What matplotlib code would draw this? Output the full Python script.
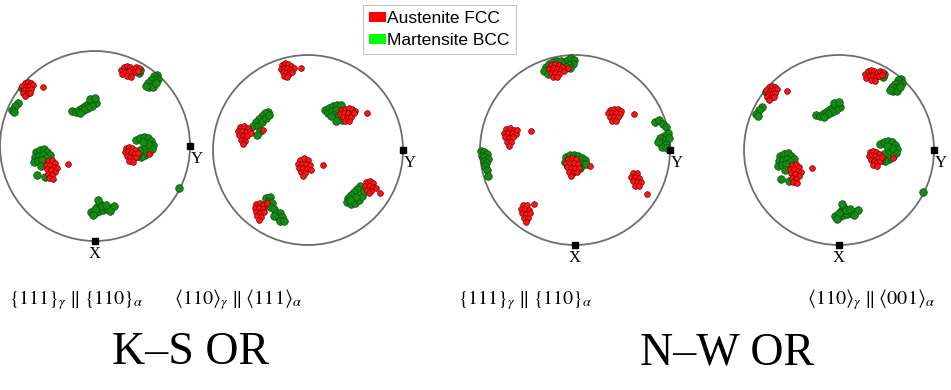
import matplotlib.pyplot as plt
from matplotlib.patches import Circle, Patch

plt.rcParams['mathtext.fontset'] = 'stix'

# -----------------------------
# DATA: pole figure points, unit circle coords (u to the right = Y, v up)
# -----------------------------
KS111_GREEN = [
    (0.46, 0.77), (0.47, 0.80),
    (0.65, 0.75), (0.62, 0.74), (0.66, 0.71), (0.63, 0.69), (0.59, 0.69), (0.60, 0.65),
    (0.56, 0.66), (0.57, 0.62), (0.61, 0.62), (0.64, 0.66), (0.54, 0.63),
    (-0.77, 0.61),
    (-0.81, 0.45), (-0.84, 0.42), (-0.87, 0.38), (-0.85, 0.36),
    (-0.24, 0.37), (-0.20, 0.36), (-0.17, 0.38), (-0.14, 0.40), (-0.11, 0.42), (-0.07, 0.44),
    (-0.04, 0.46), (-0.01, 0.48), (0.01, 0.45), (-0.03, 0.42), (-0.07, 0.40), (-0.12, 0.38),
    (-0.16, 0.35), (-0.05, 0.49), (0.00, 0.51),
    (0.43, 0.06), (0.47, 0.08), (0.52, 0.09), (0.56, 0.08), (0.59, 0.05), (0.61, 0.01),
    (0.60, -0.03), (0.57, -0.06), (0.53, -0.09), (0.48, -0.12), (0.44, -0.11), (0.47, -0.04),
    (0.53, 0.00), (0.56, 0.02), (0.51, 0.04),
    (-0.62, -0.06), (-0.58, -0.04), (-0.54, -0.03), (-0.51, -0.06), (-0.47, -0.09), (-0.63, -0.12),
    (-0.59, -0.11), (-0.55, -0.09), (-0.52, -0.13), (-0.64, -0.17), (-0.60, -0.16), (-0.56, -0.15),
    (-0.61, -0.31), (-0.53, -0.33), (-0.57, -0.21),
    (-0.04, -0.69), (0.00, -0.71), (0.04, -0.68), (0.08, -0.67), (0.13, -0.66), (0.17, -0.65),
    (0.20, -0.63), (0.02, -0.64), (0.05, -0.61), (0.03, -0.57), (0.07, -0.63), (0.12, -0.62),
    (0.16, -0.68), (0.00, -0.66), (-0.02, -0.73),
    (0.88, -0.44),
]
KS111_RED = [
    (0.27, 0.80), (0.31, 0.83), (0.34, 0.84), (0.37, 0.83), (0.40, 0.81), (0.43, 0.83),
    (0.46, 0.82), (0.28, 0.76), (0.33, 0.78), (0.36, 0.79), (0.39, 0.77), (0.42, 0.78),
    (0.34, 0.74), (0.38, 0.73), (0.45, 0.79),
    (-0.74, 0.66), (-0.71, 0.67), (-0.67, 0.66), (-0.77, 0.63), (-0.73, 0.62), (-0.68, 0.63),
    (-0.65, 0.64), (-0.75, 0.59), (-0.71, 0.59), (-0.67, 0.60), (-0.76, 0.56), (-0.72, 0.55),
    (-0.68, 0.56), (-0.74, 0.53), (-0.55, 0.62),
    (0.33, -0.02), (0.36, -0.01), (0.39, -0.02), (0.42, -0.04), (0.32, -0.06), (0.35, -0.05),
    (0.38, -0.06), (0.41, -0.08), (0.34, -0.11), (0.37, -0.12), (0.40, -0.13), (0.43, -0.12),
    (0.36, -0.16), (0.40, -0.17), (0.45, -0.07), (0.57, -0.08),
    (-0.49, -0.16), (-0.45, -0.15), (-0.42, -0.18), (-0.52, -0.20), (-0.47, -0.20), (-0.43, -0.22),
    (-0.40, -0.23), (-0.51, -0.24), (-0.46, -0.25), (-0.42, -0.27), (-0.49, -0.29), (-0.45, -0.31),
    (-0.48, -0.34), (-0.44, -0.35), (-0.28, -0.19),
]

KS110_GREEN = [
    (0.18, 0.42), (0.22, 0.44), (0.26, 0.46), (0.31, 0.47), (0.35, 0.47), (0.21, 0.39),
    (0.25, 0.41), (0.29, 0.42), (0.27, 0.37), (0.32, 0.35), (0.36, 0.32), (0.29, 0.31), (0.24, 0.36),
    (-0.42, 0.40), (-0.45, 0.39), (-0.48, 0.36), (-0.52, 0.33), (-0.55, 0.29), (-0.58, 0.25),
    (-0.53, 0.25), (-0.48, 0.29), (-0.44, 0.34), (-0.41, 0.37), (-0.51, 0.20), (-0.54, 0.16),
    (0.55, -0.38), (0.52, -0.41), (0.48, -0.44), (0.45, -0.47), (0.42, -0.51), (0.41, -0.55),
    (0.45, -0.57), (0.49, -0.56), (0.54, -0.53), (0.57, -0.48), (0.59, -0.43), (0.51, -0.49), (0.44, -0.53),
    (-0.44, -0.51), (-0.40, -0.49), (-0.42, -0.55), (-0.38, -0.56), (-0.40, -0.60), (-0.36, -0.62),
    (-0.34, -0.66), (-0.29, -0.66), (-0.32, -0.71), (-0.27, -0.71), (-0.29, -0.75), (-0.25, -0.75),
    (-0.36, -0.69), (-0.46, -0.58),
]
KS110_RED = [
    (-0.27, 0.89), (-0.24, 0.92), (-0.21, 0.91), (-0.18, 0.88), (-0.15, 0.86), (-0.28, 0.85),
    (-0.25, 0.86), (-0.22, 0.86), (-0.19, 0.84), (-0.26, 0.82), (-0.23, 0.81), (-0.20, 0.80),
    (-0.25, 0.78), (-0.22, 0.77), (-0.17, 0.82), (-0.07, 0.86),
    (0.35, 0.42), (0.39, 0.43), (0.43, 0.44), (0.46, 0.43), (0.49, 0.41), (0.34, 0.38),
    (0.38, 0.39), (0.42, 0.39), (0.46, 0.38), (0.37, 0.35), (0.41, 0.34), (0.45, 0.35),
    (0.39, 0.31), (0.43, 0.31), (0.48, 0.39), (0.62, 0.39),
    (-0.72, 0.24), (-0.67, 0.25), (-0.63, 0.23), (-0.74, 0.20), (-0.69, 0.20), (-0.65, 0.19),
    (-0.61, 0.20), (-0.73, 0.16), (-0.68, 0.15), (-0.64, 0.15), (-0.71, 0.11), (-0.66, 0.09),
    (-0.68, 0.06), (-0.60, 0.18), (-0.47, 0.21),
    (-0.08, -0.11), (-0.04, -0.08), (0.00, -0.11), (-0.11, -0.15), (-0.06, -0.15), (-0.02, -0.15),
    (0.02, -0.16), (-0.09, -0.19), (-0.05, -0.19), (-0.01, -0.20), (-0.07, -0.23), (-0.03, -0.24),
    (-0.05, -0.27), (0.03, -0.21), (0.16, -0.16),
    (0.61, -0.34), (0.65, -0.33), (0.68, -0.35), (0.60, -0.38), (0.64, -0.38), (0.68, -0.39),
    (0.72, -0.40), (0.62, -0.42), (0.66, -0.43), (0.64, -0.45), (0.76, -0.45),
    (-0.55, -0.57), (-0.51, -0.56), (-0.47, -0.58), (-0.56, -0.61), (-0.52, -0.61), (-0.47, -0.62),
    (-0.55, -0.65), (-0.51, -0.66), (-0.46, -0.65), (-0.54, -0.69), (-0.49, -0.71), (-0.52, -0.74),
    (-0.43, -0.56),
]

NW111_GREEN = [
    (-0.31, 0.87), (-0.33, 0.83), (-0.27, 0.91), (-0.23, 0.93), (-0.19, 0.94), (-0.15, 0.94),
    (-0.11, 0.93), (-0.07, 0.95), (-0.04, 0.97), (-0.01, 0.95), (-0.02, 0.91), (-0.06, 0.89),
    (-0.09, 0.87), (-0.05, 0.86), (-0.28, 0.80),
    (0.84, 0.29), (0.88, 0.32), (0.93, 0.27), (0.96, 0.24), (0.98, 0.18), (0.94, 0.15),
    (0.89, 0.13), (0.95, 0.11), (0.91, 0.07), (0.96, 0.06), (0.92, 0.03), (0.97, 0.02),
    (0.87, 0.08), (0.99, 0.13),
    (-0.99, -0.01), (-0.96, -0.02), (-0.93, -0.04), (-0.98, -0.06), (-0.96, -0.07), (-0.92, -0.09),
    (-0.96, -0.12), (-0.94, -0.14), (-0.95, -0.17), (-0.93, -0.21), (-0.92, -0.27),
    (-0.09, -0.07), (-0.05, -0.05), (-0.01, -0.05), (0.03, -0.06), (0.07, -0.08), (0.11, -0.11),
    (0.08, -0.15), (0.05, -0.19), (-0.11, -0.13), (-0.07, -0.17), (-0.03, -0.23), (0.12, -0.15),
]
NW111_RED = [
    (-0.25, 0.89), (-0.21, 0.91), (-0.17, 0.89), (-0.14, 0.87), (-0.27, 0.85), (-0.23, 0.86),
    (-0.19, 0.85), (-0.15, 0.84), (-0.12, 0.83), (-0.25, 0.81), (-0.21, 0.81), (-0.17, 0.80),
    (-0.23, 0.77), (-0.19, 0.77), (-0.07, 0.86),
    (0.37, 0.42), (0.41, 0.43), (0.45, 0.43), (0.48, 0.41), (0.35, 0.39), (0.39, 0.39),
    (0.43, 0.39), (0.47, 0.38), (0.37, 0.35), (0.41, 0.35), (0.45, 0.35), (0.39, 0.31),
    (0.43, 0.31), (0.62, 0.38),
    (-0.73, 0.22), (-0.68, 0.23), (-0.64, 0.21), (-0.75, 0.18), (-0.71, 0.18), (-0.66, 0.18),
    (-0.62, 0.17), (-0.74, 0.14), (-0.69, 0.13), (-0.65, 0.14), (-0.72, 0.08), (-0.67, 0.08),
    (-0.69, 0.04), (-0.61, 0.21), (-0.46, 0.20),
    (-0.07, -0.09), (-0.03, -0.08), (0.01, -0.09), (-0.09, -0.14), (-0.05, -0.14), (-0.01, -0.14),
    (0.03, -0.15), (-0.08, -0.18), (-0.04, -0.19), (0.00, -0.19), (0.04, -0.19), (-0.06, -0.23),
    (-0.02, -0.24), (0.02, -0.23), (-0.04, -0.27), (0.16, -0.17),
    (0.61, -0.24), (0.65, -0.24), (0.59, -0.28), (0.63, -0.28), (0.67, -0.29), (0.61, -0.33),
    (0.65, -0.34), (0.69, -0.34), (0.63, -0.38), (0.67, -0.38), (0.76, -0.46),
    (-0.55, -0.58), (-0.51, -0.58), (-0.57, -0.62), (-0.53, -0.62), (-0.48, -0.63), (-0.56, -0.66),
    (-0.52, -0.67), (-0.47, -0.66), (-0.54, -0.72), (-0.49, -0.72), (-0.52, -0.76), (-0.43, -0.57),
]

# the <110>||<001> figure shows the same poles as the first one
NW110_GREEN = KS111_GREEN
NW110_RED = KS111_RED

FIGURES = [
    (KS111_GREEN, KS111_RED, True),
    (KS110_GREEN, KS110_RED, False),
    (NW111_GREEN, NW111_RED, True),
    (NW110_GREEN, NW110_RED, True),
]
SUBTITLES = [
    r'$\{111\}_{\gamma}\;\Vert\;\{110\}_{\alpha}$',
    r'$\langle 110\rangle_{\gamma}\;\Vert\;\langle 111\rangle_{\alpha}$',
    r'$\{111\}_{\gamma}\;\Vert\;\{110\}_{\alpha}$',
    r'$\langle 110\rangle_{\gamma}\;\Vert\;\langle 001\rangle_{\alpha}$',
]
OR_LABELS = ['K\u2013S OR', 'N\u2013W OR']

# -----------------------------
# LAYOUT (pixels)
# -----------------------------
CENTERS = [(95, 146), (308, 150), (575, 150), (839, 150)]
R = 95
SUB_X = [76, 238, 525, 871]
OR_X = [191, 727]

fig = plt.figure(figsize=(9.51, 3.9), dpi=100)
ax = fig.add_axes([0, 0, 1, 1])
ax.set_xlim(0, 951)
ax.set_ylim(390, 0)
ax.axis('off')

for (cx, cy), (green, red, has_x) in zip(CENTERS, FIGURES):
    ax.add_patch(Circle((cx, cy), R, fill=False, edgecolor='#6e6e6e', lw=1.3, zorder=1))
    gx = [cx + u * R for u, v in green]
    gy = [cy - v * R for u, v in green]
    rx = [cx + u * R for u, v in red]
    ry = [cy - v * R for u, v in red]
    ax.scatter(gx, gy, s=30, c='#128c12', edgecolors='#0b4f0b', linewidths=0.5, zorder=2)
    ax.scatter(rx, ry, s=17, c='#ff1414', edgecolors='#7a0000', linewidths=0.5, zorder=3)
    # sample axes markers
    ax.plot(cx + R, cy, marker='s', ms=4.5, color='black', zorder=4)
    ax.text(cx + R + 7, cy + 13, 'Y', family='Liberation Serif', fontsize=12,
            ha='center', va='center')
    if has_x:
        ax.plot(cx, cy + R, marker='s', ms=4.5, color='black', zorder=4)
        ax.text(cx, cy + R + 13, 'X', family='Liberation Serif', fontsize=12,
                ha='center', va='center')

for x, s in zip(SUB_X, SUBTITLES):
    ax.text(x, 300, s, fontsize=14.5, ha='center', va='center')

for x, s in zip(OR_X, OR_LABELS):
    ax.text(x, 353, s, family='Liberation Serif', fontsize=33, ha='center', va='center')

handles = [Patch(facecolor='#ff0000', edgecolor='none', label='Austenite FCC'),
           Patch(facecolor='#00ff00', edgecolor='none', label='Martensite BCC')]
leg = fig.legend(handles=handles, loc='upper left', bbox_to_anchor=(363 / 951, 1 - 5 / 390),
                 frameon=True, fancybox=False, prop={'family': 'Liberation Sans', 'size': 12.5},
                 handlelength=0.95, handleheight=0.55, handletextpad=0.1, borderpad=0.35,
                 labelspacing=0.4, borderaxespad=0)
leg.get_frame().set_edgecolor('#b4b4b4')
leg.get_frame().set_linewidth(0.8)

fig.savefig('out.png', dpi=100)
